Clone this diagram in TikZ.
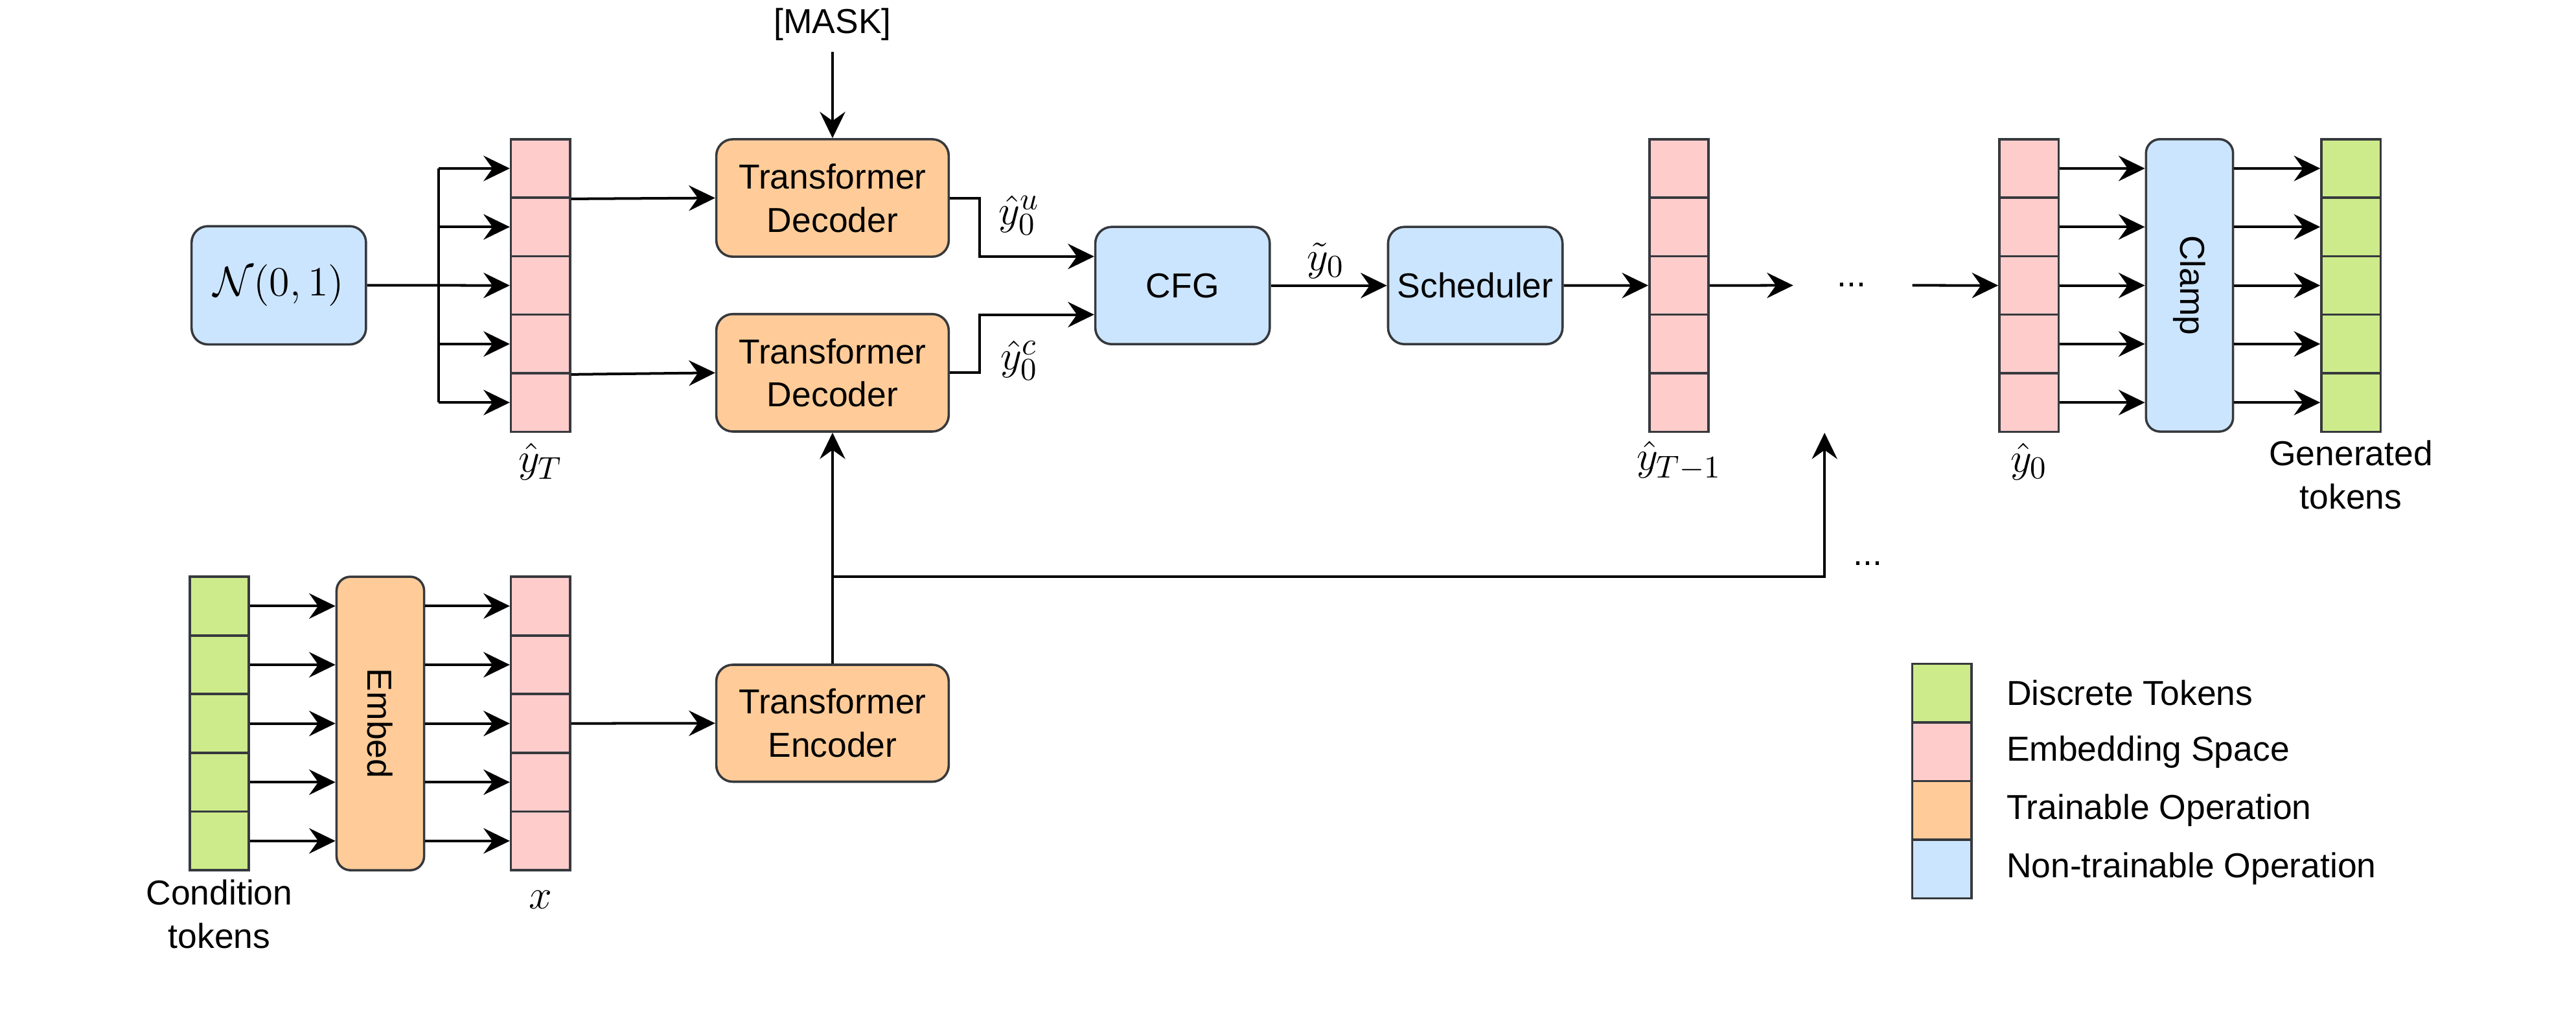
\documentclass[tikz,border=0pt]{standalone}
\usepackage[no-math]{fontspec}
\setmainfont{Liberation Sans}
\usetikzlibrary{arrows.meta,calc}
\definecolor{cgreen}{HTML}{CDEB8B}
\definecolor{cpink}{HTML}{FFCCCC}
\definecolor{corange}{HTML}{FFCC99}
\definecolor{cblue}{HTML}{CCE5FF}
\definecolor{cstroke}{HTML}{36393D}
\begin{document}
\begin{tikzpicture}[x=0.02cm,y=-0.02cm,
 font=\fontsize{12}{15}\selectfont,
 arr/.style={-{Stealth[length=3.2mm,width=3.1mm,inset=1.1mm]},line width=0.9pt},
 ln/.style={line width=0.9pt},
 box/.style={draw=cstroke,line width=0.8pt,rounded corners=0.2cm,align=center,inner sep=0pt},
 cell/.style={draw=cstroke,line width=0.8pt,minimum width=0.72cm,minimum height=0.713cm,inner sep=0pt},
 mlab/.style={font=\fontsize{15}{18}\selectfont,inner sep=0pt},
 lab/.style={inner sep=0pt,align=center}]

\useasboundingbox (0,0) rectangle (1568,616.8);

% columns
\foreach \i in {1,...,5} {
  \node[cell,fill=cpink] (yT\i) at (329,{84.7+35.62*(\i-0.5)}) {};
  \node[cell,fill=cpink] (yS\i) at (1022,{84.7+35.62*(\i-0.5)}) {};
  \node[cell,fill=cpink] (yZ\i) at (1235,{84.7+35.62*(\i-0.5)}) {};
  \node[cell,fill=cgreen] (gen\i) at (1431,{84.7+35.62*(\i-0.5)}) {};
  \node[cell,fill=cgreen] (cond\i) at (133.5,{351+35.74*(\i-0.5)}) {};
  \node[cell,fill=cpink] (xc\i) at (329,{351+35.74*(\i-0.5)}) {};
}

% boxes
\node[box,fill=cblue,minimum width=2.124cm,minimum height=1.44cm] (N) at (169.7,173.65) {\fontsize{15}{18}\selectfont$\mathcal{N}(0,1)$};
\node[box,fill=corange,minimum width=2.83cm,minimum height=1.43cm] (dec1) at (506.75,120.5) {Transformer\\Decoder};
\node[box,fill=corange,minimum width=2.83cm,minimum height=1.43cm] (dec2) at (506.75,226.9) {Transformer\\Decoder};
\node[box,fill=cblue,minimum width=2.124cm,minimum height=1.428cm] (cfg) at (719.8,173.8) {CFG};
\node[box,fill=cblue,minimum width=2.124cm,minimum height=1.428cm] (sched) at (898,173.8) {Scheduler};
\node[box,fill=cblue,minimum width=1.06cm,minimum height=3.56cm,rounded corners=0.17cm] (clamp) at (1332.75,173.7) {\rotatebox{-90}{Clamp}};
\node[box,fill=corange,minimum width=1.066cm,minimum height=3.574cm,rounded corners=0.17cm] (embed) at (231.5,440.35) {\rotatebox{-90}{Embed}};
\node[box,fill=corange,minimum width=2.83cm,minimum height=1.424cm] (enc) at (506.75,440.2) {Transformer\\Encoder};

% labels
\node[lab] (mask) at (506.75,14.8) {[MASK]};
\coordinate (maskend) at (506.75,31.5);
\node[mlab] (lyT) at (329,281) {$\hat{y}_T$};
\node[mlab] (lyS) at (1022,280.5) {$\hat{y}_{T-1}$};
\node[mlab] (lyZ) at (1235,281) {$\hat{y}_0$};
\node[mlab] (lx) at (329,547.7) {$x$};
\node[mlab] (lu) at (620.5,131) {$\hat{y}_0^u$};
\node[mlab] (lc) at (620.5,219.3) {$\hat{y}_0^c$};
\node[mlab] (lt) at (807,158.8) {$\tilde{y}_0$};
\node[lab] (lgen) at (1431,289) {Generated\\tokens};
\node[lab] (lcond) at (133.5,556.5) {Condition\\tokens};
\node[lab] (dots1) at (1127,173.5) {...};
\node[lab] (dots2) at (1137,343) {...};

% fan-out from N
\coordinate (fan) at (267,173.7);
\draw[ln] (fan |- yT1.west) -- (fan |- yT5.west);
\draw[arr] (N.east) -- (yT3.west);
\foreach \i in {1,2,4,5} \draw[arr] (fan |- yT\i.west) -- (yT\i.west);

% to decoders
\draw[arr] (yT1.south east) -- (dec1.west);
\draw[arr] (yT4.south east) -- (dec2.west);
\draw[arr] (maskend) -- (dec1.north);

% decoders to CFG
\draw[arr] (dec1.east) -- ++(17.9,0) |- ($(cfg.west)+(0,-17.7)$);
\draw[arr] (dec2.east) -- ++(17.9,0) |- ($(cfg.west)+(0,17.7)$);
\draw[arr] (cfg.east) -- (sched.west);
\draw[arr] (sched.east) -- (yS3.west);
\coordinate (outS) at (1091.5,173.7);
\draw[arr] (yS3.east) -- (outS);
\coordinate (inZ) at (1164,173.7);
\draw[arr] (inZ) -- (yZ3.west);

% clamp
\foreach \i in {1,...,5} {
  \draw[arr] (yZ\i.east) -- (yZ\i.east -| clamp.west);
  \draw[arr] (yZ\i.east -| clamp.east) -- (gen\i.west);
}

% condition path
\foreach \i in {1,...,5} {
  \draw[arr] (cond\i.east) -- (cond\i.east -| embed.west);
  \draw[arr] (cond\i.east -| embed.east) -- (xc\i.west);
}
\draw[arr] (xc3.east) -- (enc.west);
\draw[arr] (enc.north) -- (dec2.south);
\coordinate (brend) at (1110.6,263.4);
\draw[arr] ($(enc.north)+(0,-53)$) -| (brend);

% legend
\node[cell,fill=cgreen] (lg1) at (1182,421.9) {};
\node[cell,fill=cpink] (lg2) at (1182,457.6) {};
\node[cell,fill=corange] (lg3) at (1182,493.2) {};
\node[cell,fill=cblue] (lg4) at (1182,528.9) {};
\node[lab,anchor=west] (lt1) at (1221,421.9) {Discrete Tokens};
\node[lab,anchor=west] (lt2) at (1221,457.6) {Embedding Space};
\node[lab,anchor=west] (lt3) at (1221,493.2) {Trainable Operation};
\node[lab,anchor=west] (lt4) at (1221,528.9) {Non-trainable Operation};
\end{tikzpicture}
\end{document}
